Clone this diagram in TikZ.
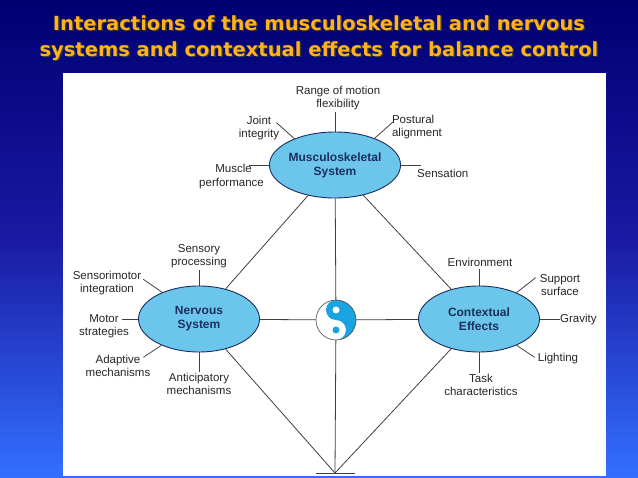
\documentclass[tikz,border=0pt]{standalone}
\usepackage{fontspec}
\setmainfont{Liberation Sans}
\newfontfamily\titlefont{DejaVu Sans}
\usetikzlibrary{shapes.geometric,backgrounds}
\definecolor{ellfill}{HTML}{6CC6EC}
\definecolor{ellline}{HTML}{1B2F5E}
\definecolor{yycyan}{HTML}{1AA3E0}
\definecolor{titleor}{HTML}{FFB21A}
\tikzset{
  ell/.style={ellipse,draw=ellline,line width=0.9pt,fill=ellfill,minimum width=121pt,minimum height=66pt,inner sep=0pt,align=center,font=\fontsize{12}{14}\selectfont\bfseries,text=ellline},
  lbl/.style={font=\fontsize{11.5}{13.5}\selectfont,text=black!85,inner sep=0pt},
  ln/.style={draw=black!75,line width=0.8pt},
  ttl/.style={font=\titlefont\fontsize{19.5}{26}\selectfont\bfseries}
}
\begin{document}
\begin{tikzpicture}[x=1pt,y=-1pt]
\useasboundingbox (0,0) rectangle (638,478);
% nodes
\node[ell] (ms) at (335,165) {Musculoskeletal\\System};
\node[ell] (ns) at (199,319) {Nervous\\System};
\node[ell] (cs) at (479,319) {Contextual\\Effects};
\node[circle,minimum size=40pt,inner sep=0pt] (yy) at (336,320) {};
\coordinate (v) at (335,473);
\coordinate (vl) at (316,473);
\coordinate (vr) at (355,473);
% yin-yang
\begin{scope}[shift={(336,320)},yscale=-1]
  \fill[white] (0,0) circle (20);
  \fill[yycyan] (0,20) arc (90:-90:20) arc (-90:90:10) arc (270:90:10) -- cycle;
  \fill[white] (0,10) circle (3.5);
  \fill[yycyan] (0,-10) circle (3.5);
  \draw[black!70,line width=0.6pt] (0,0) circle (20);
\end{scope}
% labels
\node[lbl,align=center] (rom) at (338,98) {Range of motion\\flexibility};
\node[lbl,align=center] (ji) at (259,128) {Joint\\integrity};
\node[lbl,align=left] (pa) at (417,127) {Postural\\alignment};
\node[lbl,align=right,anchor=north east] (mp) at (264,164) {Muscle\rule{12pt}{0pt}\\performance};
\node[lbl,anchor=west] (se) at (417,173) {Sensation};
\node[lbl,align=center] (sp) at (199,256) {Sensory\\processing};
\node[lbl,align=center] (sm) at (107,283) {Sensorimotor\\integration};
\node[lbl,align=center] (mo) at (104,326) {Motor\\strategies};
\node[lbl,align=center] (am) at (118,366) {Adaptive\\mechanisms};
\node[lbl,align=center] (an) at (199,384) {Anticipatory\\mechanisms};
\node[lbl] (en) at (480,262) {Environment};
\node[lbl,align=center] (su) at (560,285) {Support\\surface};
\node[lbl,anchor=west] (gr) at (560,320) {Gravity};
\node[lbl] (li) at (558,359) {Lighting};
\node[lbl,align=center] (ta) at (481,385) {Task\\characteristics};
% title
\node[ttl,text=black!80,align=center] at (320.5,39.5) {Interactions of the musculoskeletal and nervous\\systems and contextual effects for balance control};
\node[ttl,text=titleor,align=center] (title) at (319,38) {Interactions of the musculoskeletal and nervous\\systems and contextual effects for balance control};
\begin{scope}[on background layer]
  \shade[top color=blue!45!black,bottom color=blue!70!cyan!80!white,middle color=blue!60!black!90] (0,0) rectangle (638,478);
  \fill[white] (63,73) rectangle (606,476);
  \draw[ln] (ms) -- (ns);
  \draw[ln] (ms) -- (cs);
  \draw[ln] (ms) -- (yy);
  \draw[ln] (yy) -- (v);
  \draw[ln] (ns) -- (yy);
  \draw[ln] (yy) -- (cs);
  \draw[ln] (ns) -- (v);
  \draw[ln] (cs) -- (v);
  \draw[ln] (vl) -- (vr);
  % ticks
  \draw[ln] (ms.north) -- ++(0,-20);
  \draw[ln] (ms.147) -- ++(-18,-16);
  \draw[ln] (ms.34) -- ++(18,-16);
  \draw[ln] (ms.west) -- ++(-20,0);
  \draw[ln] (ms.east) -- ++(20,0);
  \draw[ln] (ns.north) -- ++(0,-16);
  \draw[ln] (ns.144) -- ++(-19,-13);
  \draw[ln] (ns.west) -- ++(-16,0);
  \draw[ln] (ns.215) -- ++(-18,12);
  \draw[ln] (ns.south) -- ++(0,20);
  \draw[ln] (cs.north) -- ++(0,-17);
  \draw[ln] (cs.35) -- ++(19,-15);
  \draw[ln] (cs.east) -- ++(20,0);
  \draw[ln] (cs.325) -- ++(18,12);
  \draw[ln] (cs.south) -- ++(0,21);
\end{scope}
\end{tikzpicture}
\end{document}
